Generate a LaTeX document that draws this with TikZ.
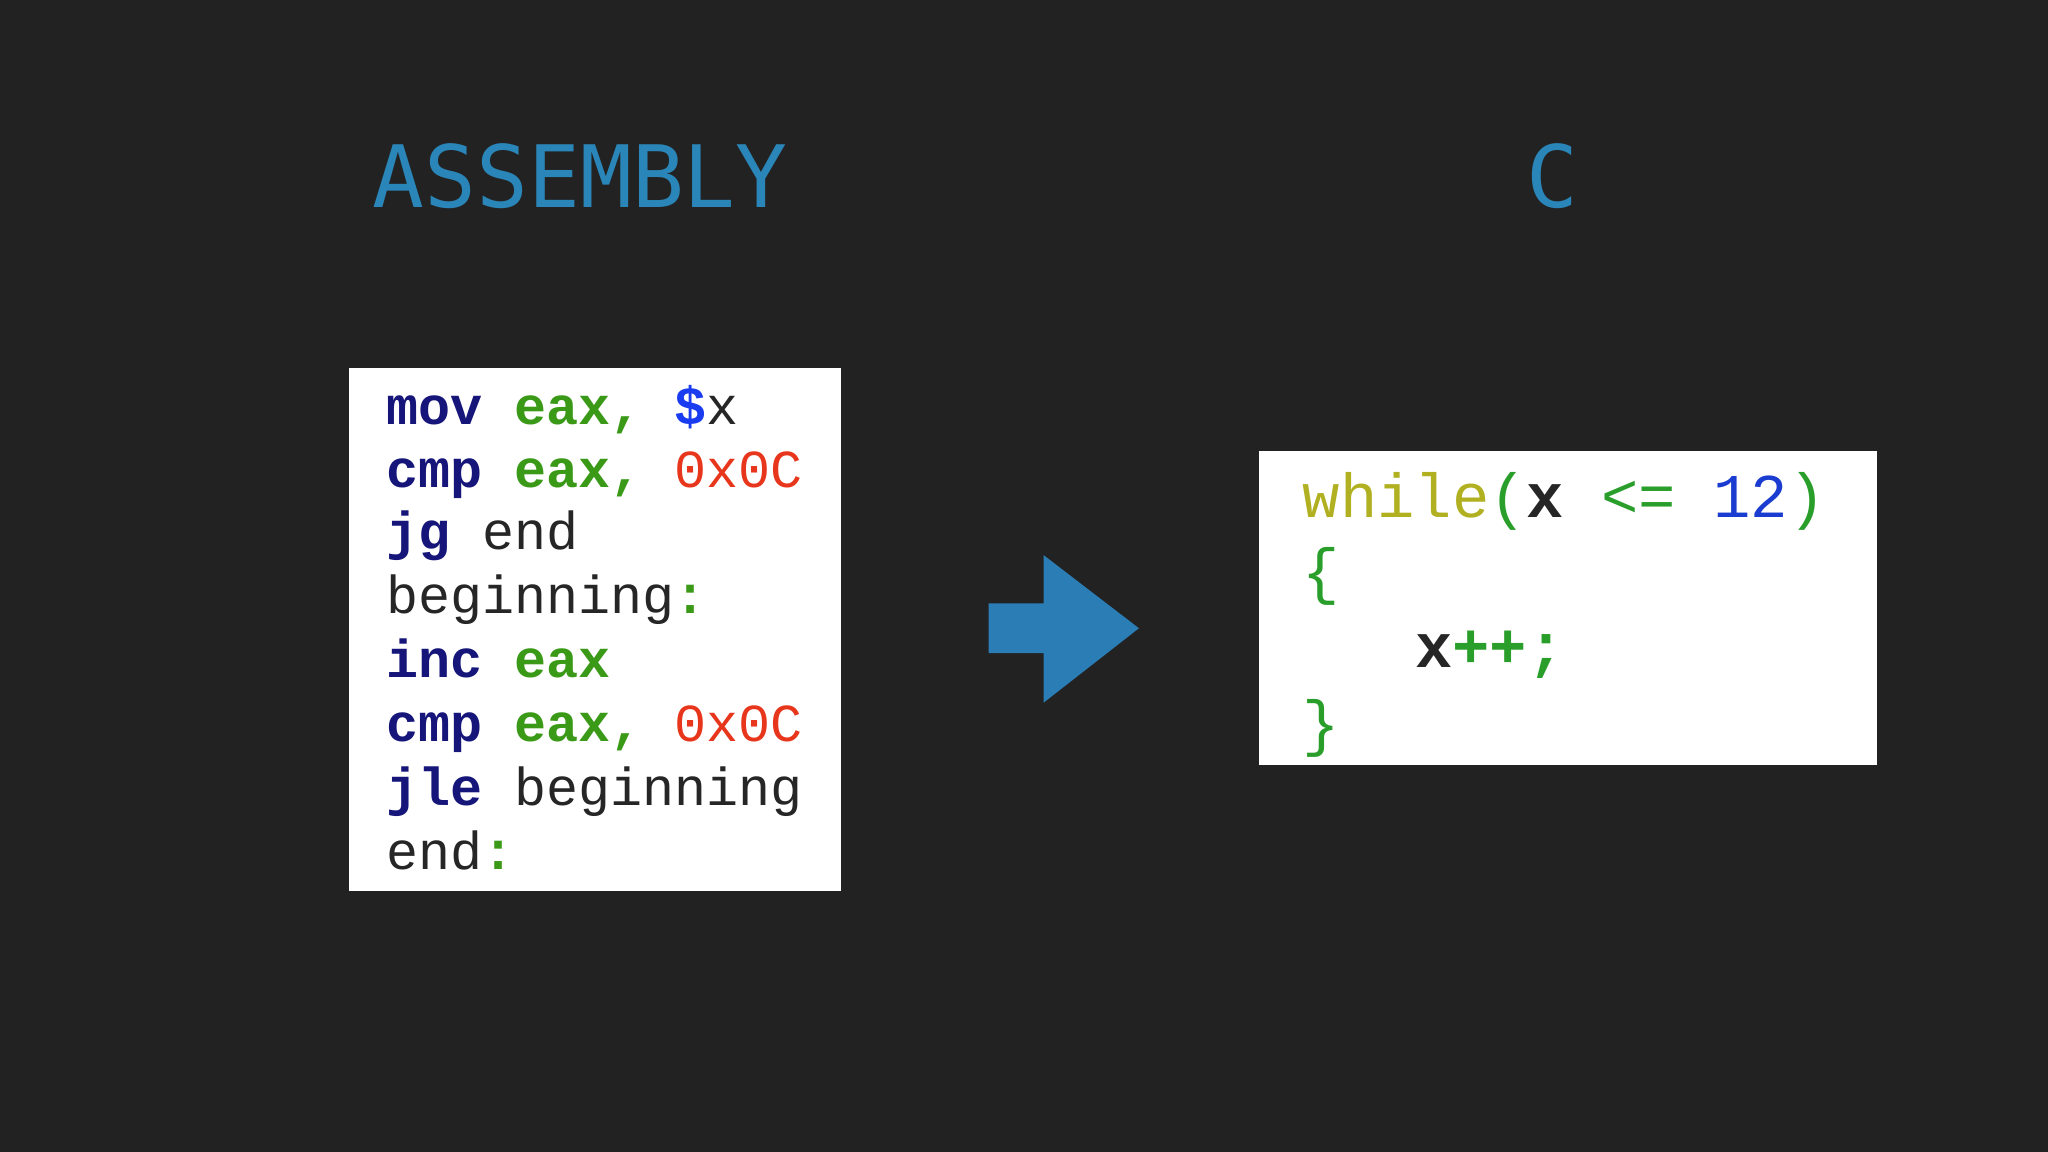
\documentclass[tikz,border=0pt]{standalone}
\usepackage{fontspec}
\setmonofont{Liberation Mono}
\newfontfamily\titlefont{DejaVu Sans Mono}
\definecolor{bg}{HTML}{222223}
\definecolor{ttl}{HTML}{2A86B8}
\definecolor{kw}{HTML}{16167A}
\definecolor{rg}{HTML}{3A9A18}
\definecolor{dl}{HTML}{1A3CF0}
\definecolor{nm}{HTML}{E8361C}
\definecolor{gc}{HTML}{2A9E2A}
\definecolor{wh}{HTML}{B0B020}
\definecolor{tw}{HTML}{1A3CD0}
\definecolor{arr}{HTML}{2B7DB5}
\tikzset{
 codeL/.style={anchor=base west,inner sep=0pt,font=\ttfamily\fontsize{15.2pt}{18pt}\selectfont,text=black!85},
 codeR/.style={anchor=base west,inner sep=0pt,font=\ttfamily\fontsize{17.7pt}{20pt}\selectfont,text=black!85},
 ttlstyle/.style={anchor=base west,inner sep=0pt,font=\titlefont\fontsize{24.5pt}{28pt}\selectfont,text=ttl}
}
\begin{document}
\begin{tikzpicture}[x=0.01306cm,y=-0.01306cm]
\fill[bg] (0,0) rectangle (1568,882);
\useasboundingbox (0,0) rectangle (1568,882);
\node[ttlstyle] (t1) at (285,159) {ASSEMBLY};
\node[ttlstyle] (t2) at (1168,159) {C};
\fill[white] (267,282) rectangle (644,682);
\fill[white] (964,345) rectangle (1437,586);
\node[codeL] (l1) at (295,325) {\textbf{\color{kw}mov} \textbf{\color{rg}eax,} \textbf{\color{dl}\$}x};
\node[codeL] (l2) at (295,373) {\textbf{\color{kw}cmp} \textbf{\color{rg}eax,} {\color{nm}0x0C}};
\node[codeL] (l3) at (295,421) {\textbf{\color{kw}jg} end};
\node[codeL] (l4) at (295,470) {beginning{\color{rg}\textbf{:}}};
\node[codeL] (l5) at (295,519) {\textbf{\color{kw}inc} \textbf{\color{rg}eax}};
\node[codeL] (l6) at (295,568) {\textbf{\color{kw}cmp} \textbf{\color{rg}eax,} {\color{nm}0x0C}};
\node[codeL] (l7) at (295,617) {\textbf{\color{kw}jle} beginning};
\node[codeL] (l8) at (295,666) {end{\color{rg}\textbf{:}}};
\node[codeR] (r1) at (997,396) {{\color{wh}while}{\color{gc}(}\textbf{x} {\color{gc}<=} {\color{tw}12}{\color{gc})}};
\node[codeR] (r2) at (997,454) {{\color{gc}\{}};
\node[codeR] (r3) at (1083,511) {\textbf{x}{\color{gc}\textbf{++;}}};
\node[codeR] (r4) at (997,570) {{\color{gc}\}}};
\fill[arr] (757,462) -- (799,462) -- (799,425) -- (872,481) -- (799,538) -- (799,500) -- (757,500) -- cycle;
\end{tikzpicture}
\end{document}
